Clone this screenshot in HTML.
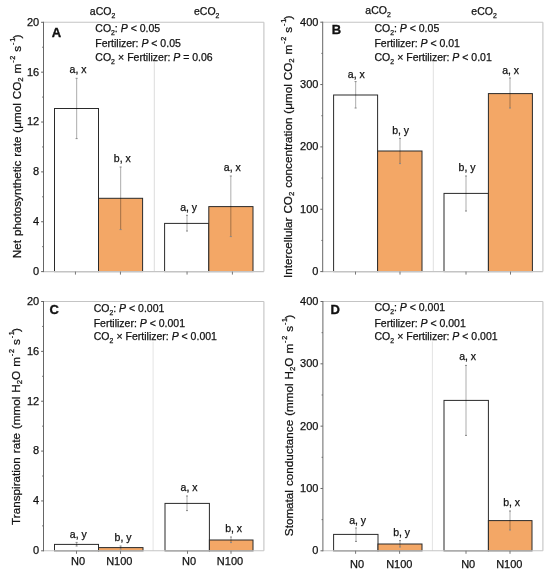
<!DOCTYPE html>
<html><head><meta charset="utf-8"><style>
html,body{margin:0;padding:0;background:#fff;width:550px;height:574px;overflow:hidden}
svg{display:block} svg{will-change:transform} text{stroke:#111;stroke-width:0.25px}
text{font-family:"Liberation Sans", sans-serif;fill:#111}
</style></head><body>
<svg width="550" height="574" viewBox="0 0 550 574">
<rect width="550" height="574" fill="#fff"/>
<line x1="154.3" y1="22.3" x2="154.3" y2="271.6" stroke="#dcdcdc" stroke-width="1"/>
<rect x="54.5" y="108.5" width="44.00" height="163.10" fill="#fff" stroke="#2a2a2a" stroke-width="1"/>
<rect x="98.5" y="198.3" width="44.10" height="73.30" fill="#f3a766" stroke="#2a2a2a" stroke-width="1"/>
<rect x="164.6" y="223.4" width="44.20" height="48.20" fill="#fff" stroke="#2a2a2a" stroke-width="1"/>
<rect x="208.8" y="206.6" width="44.20" height="65.00" fill="#f3a766" stroke="#2a2a2a" stroke-width="1"/>
<line x1="76.6" y1="78.3" x2="76.6" y2="138.6" stroke="#000" stroke-opacity="0.27" stroke-width="1.2"/>
<line x1="75.6" y1="78.3" x2="77.6" y2="78.3" stroke="#888" stroke-width="1"/>
<line x1="75.6" y1="138.6" x2="77.6" y2="138.6" stroke="#888" stroke-width="1"/>
<line x1="120.6" y1="167" x2="120.6" y2="229.6" stroke="#000" stroke-opacity="0.27" stroke-width="1.2"/>
<line x1="119.6" y1="167" x2="121.6" y2="167" stroke="#888" stroke-width="1"/>
<line x1="119.6" y1="229.6" x2="121.6" y2="229.6" stroke="#888" stroke-width="1"/>
<line x1="187" y1="215.3" x2="187" y2="231" stroke="#000" stroke-opacity="0.27" stroke-width="1.2"/>
<line x1="186" y1="215.3" x2="188" y2="215.3" stroke="#888" stroke-width="1"/>
<line x1="186" y1="231" x2="188" y2="231" stroke="#888" stroke-width="1"/>
<line x1="230.8" y1="176" x2="230.8" y2="236.6" stroke="#000" stroke-opacity="0.27" stroke-width="1.2"/>
<line x1="229.8" y1="176" x2="231.8" y2="176" stroke="#888" stroke-width="1"/>
<line x1="229.8" y1="236.6" x2="231.8" y2="236.6" stroke="#888" stroke-width="1"/>
<line x1="43.5" y1="22.3" x2="263.9" y2="22.3" stroke="#c4c4c4" stroke-width="1.1"/>
<line x1="263.9" y1="22.3" x2="263.9" y2="271.6" stroke="#c4c4c4" stroke-width="1.1"/>
<line x1="43.5" y1="271.6" x2="263.9" y2="271.6" stroke="#c4c4c4" stroke-width="1.1"/>
<rect x="94.3" y="23.3" width="125" height="38.8" fill="#fff"/>
<line x1="43.5" y1="21.8" x2="43.5" y2="272.1" stroke="#666666" stroke-width="1"/>
<line x1="41.1" y1="271.60" x2="43.5" y2="271.60" stroke="#666666" stroke-width="1"/>
<text x="39.2" y="275.00" text-anchor="end" font-size="11">0</text>
<line x1="42.2" y1="246.67" x2="43.5" y2="246.67" stroke="#666666" stroke-width="1"/>
<line x1="41.1" y1="221.74" x2="43.5" y2="221.74" stroke="#666666" stroke-width="1"/>
<text x="39.2" y="225.14" text-anchor="end" font-size="11">4</text>
<line x1="42.2" y1="196.81" x2="43.5" y2="196.81" stroke="#666666" stroke-width="1"/>
<line x1="41.1" y1="171.88" x2="43.5" y2="171.88" stroke="#666666" stroke-width="1"/>
<text x="39.2" y="175.28" text-anchor="end" font-size="11">8</text>
<line x1="42.2" y1="146.95" x2="43.5" y2="146.95" stroke="#666666" stroke-width="1"/>
<line x1="41.1" y1="122.02" x2="43.5" y2="122.02" stroke="#666666" stroke-width="1"/>
<text x="39.2" y="125.42" text-anchor="end" font-size="11">12</text>
<line x1="42.2" y1="97.09" x2="43.5" y2="97.09" stroke="#666666" stroke-width="1"/>
<line x1="41.1" y1="72.16" x2="43.5" y2="72.16" stroke="#666666" stroke-width="1"/>
<text x="39.2" y="75.56" text-anchor="end" font-size="11">16</text>
<line x1="42.2" y1="47.23" x2="43.5" y2="47.23" stroke="#666666" stroke-width="1"/>
<line x1="41.1" y1="22.30" x2="43.5" y2="22.30" stroke="#666666" stroke-width="1"/>
<text x="39.2" y="25.70" text-anchor="end" font-size="11">20</text>
<line x1="75.45" y1="271.6" x2="75.45" y2="274.6" stroke="#777" stroke-width="1"/>
<line x1="120.45" y1="271.6" x2="120.45" y2="274.6" stroke="#777" stroke-width="1"/>
<line x1="187.05" y1="271.6" x2="187.05" y2="274.6" stroke="#777" stroke-width="1"/>
<line x1="232.4" y1="271.6" x2="232.4" y2="274.6" stroke="#777" stroke-width="1"/>
<text x="51.8" y="36.8" font-size="13" font-weight="bold" style="stroke-width:0.35px">A</text>
<text x="95.3" y="31.8" font-size="10.5">CO<tspan font-size="6.83" baseline-shift="-2.94">2</tspan>: <tspan font-style="italic">P</tspan> &lt; 0.05</text>
<text x="95.3" y="47" font-size="10.5">Fertilizer: <tspan font-style="italic">P</tspan> &lt; 0.05</text>
<text x="95.3" y="60.5" font-size="10.5">CO<tspan font-size="6.83" baseline-shift="-2.94">2</tspan><tspan dx="0.3"> ×</tspan> Fertilizer: <tspan font-style="italic">P</tspan> = 0.06</text>
<text x="69.60" y="73" font-size="10.5">a, x</text>
<text x="113.80" y="162.4" font-size="10.5">b, x</text>
<text x="180.20" y="211" font-size="10.5">a, y</text>
<text x="223.80" y="171" font-size="10.5">a, x</text>
<text x="89.8" y="15" font-size="10.5">aCO<tspan font-size="6.83" baseline-shift="-2.94">2</tspan></text>
<text x="194" y="15" font-size="10.5">eCO<tspan font-size="6.83" baseline-shift="-2.94">2</tspan></text>
<text transform="translate(20.7,146.4) rotate(-90)" x="0" y="0" text-anchor="middle" font-size="11.7" word-spacing="0.7">Net photosynthetic rate (μmol CO<tspan font-size="7.84" baseline-shift="-2.11">2</tspan> m<tspan font-size="7.25" baseline-shift="5.85"><tspan dx="0.9">-</tspan><tspan dx="0.7">2</tspan></tspan> s<tspan font-size="7.25" baseline-shift="5.85"><tspan dx="0.9">-</tspan><tspan dx="0.7">1</tspan></tspan><tspan dx="-0.8">)</tspan></text>
<line x1="433.3" y1="22.2" x2="433.3" y2="271.6" stroke="#e0e0e0" stroke-width="1"/>
<rect x="333.6" y="95" width="44.00" height="176.60" fill="#fff" stroke="#2a2a2a" stroke-width="1"/>
<rect x="377.6" y="151" width="44.40" height="120.60" fill="#f3a766" stroke="#2a2a2a" stroke-width="1"/>
<rect x="444" y="193.4" width="44.40" height="78.20" fill="#fff" stroke="#2a2a2a" stroke-width="1"/>
<rect x="488.4" y="93.6" width="44.00" height="178.00" fill="#f3a766" stroke="#2a2a2a" stroke-width="1"/>
<line x1="355.6" y1="81.6" x2="355.6" y2="108" stroke="#000" stroke-opacity="0.27" stroke-width="1.2"/>
<line x1="354.6" y1="81.6" x2="356.6" y2="81.6" stroke="#888" stroke-width="1"/>
<line x1="354.6" y1="108" x2="356.6" y2="108" stroke="#888" stroke-width="1"/>
<line x1="400" y1="138.4" x2="400" y2="163.6" stroke="#000" stroke-opacity="0.27" stroke-width="1.2"/>
<line x1="399" y1="138.4" x2="401" y2="138.4" stroke="#888" stroke-width="1"/>
<line x1="399" y1="163.6" x2="401" y2="163.6" stroke="#888" stroke-width="1"/>
<line x1="466" y1="176" x2="466" y2="211" stroke="#000" stroke-opacity="0.27" stroke-width="1.2"/>
<line x1="465" y1="176" x2="467" y2="176" stroke="#888" stroke-width="1"/>
<line x1="465" y1="211" x2="467" y2="211" stroke="#888" stroke-width="1"/>
<line x1="510" y1="78" x2="510" y2="108" stroke="#000" stroke-opacity="0.27" stroke-width="1.2"/>
<line x1="509" y1="78" x2="511" y2="78" stroke="#888" stroke-width="1"/>
<line x1="509" y1="108" x2="511" y2="108" stroke="#888" stroke-width="1"/>
<line x1="322.7" y1="22.2" x2="542.9" y2="22.2" stroke="#c4c4c4" stroke-width="1.1"/>
<line x1="542.9" y1="22.2" x2="542.9" y2="271.6" stroke="#c4c4c4" stroke-width="1.1"/>
<line x1="322.7" y1="271.6" x2="542.9" y2="271.6" stroke="#c4c4c4" stroke-width="1.1"/>
<rect x="373.4" y="23.2" width="125" height="38.8" fill="#fff"/>
<line x1="322.7" y1="21.7" x2="322.7" y2="272.1" stroke="#666666" stroke-width="1"/>
<line x1="320.3" y1="271.60" x2="322.7" y2="271.60" stroke="#666666" stroke-width="1"/>
<text x="318.4" y="275.00" text-anchor="end" font-size="11">0</text>
<line x1="321.4" y1="240.43" x2="322.7" y2="240.43" stroke="#666666" stroke-width="1"/>
<line x1="320.3" y1="209.25" x2="322.7" y2="209.25" stroke="#666666" stroke-width="1"/>
<text x="318.4" y="212.65" text-anchor="end" font-size="11">100</text>
<line x1="321.4" y1="178.07" x2="322.7" y2="178.07" stroke="#666666" stroke-width="1"/>
<line x1="320.3" y1="146.90" x2="322.7" y2="146.90" stroke="#666666" stroke-width="1"/>
<text x="318.4" y="150.30" text-anchor="end" font-size="11">200</text>
<line x1="321.4" y1="115.72" x2="322.7" y2="115.72" stroke="#666666" stroke-width="1"/>
<line x1="320.3" y1="84.55" x2="322.7" y2="84.55" stroke="#666666" stroke-width="1"/>
<text x="318.4" y="87.95" text-anchor="end" font-size="11">300</text>
<line x1="321.4" y1="53.38" x2="322.7" y2="53.38" stroke="#666666" stroke-width="1"/>
<line x1="320.3" y1="22.20" x2="322.7" y2="22.20" stroke="#666666" stroke-width="1"/>
<text x="318.4" y="25.60" text-anchor="end" font-size="11">400</text>
<line x1="355.5" y1="271.6" x2="355.5" y2="274.6" stroke="#777" stroke-width="1"/>
<line x1="400" y1="271.6" x2="400" y2="274.6" stroke="#777" stroke-width="1"/>
<line x1="466" y1="271.6" x2="466" y2="274.6" stroke="#777" stroke-width="1"/>
<line x1="510.5" y1="271.6" x2="510.5" y2="274.6" stroke="#777" stroke-width="1"/>
<text x="331.7" y="34" font-size="13" font-weight="bold" style="stroke-width:0.35px">B</text>
<text x="374.4" y="31.8" font-size="10.5">CO<tspan font-size="6.83" baseline-shift="-2.94">2</tspan>: <tspan font-style="italic">P</tspan> &lt; 0.05</text>
<text x="374.4" y="47" font-size="10.5">Fertilizer: <tspan font-style="italic">P</tspan> &lt; 0.01</text>
<text x="374.4" y="60.5" font-size="10.5">CO<tspan font-size="6.83" baseline-shift="-2.94">2</tspan><tspan dx="0.3"> ×</tspan> Fertilizer: <tspan font-style="italic">P</tspan> &lt; 0.01</text>
<text x="347.80" y="77.6" font-size="10.5">a, x</text>
<text x="392.20" y="134" font-size="10.5">b, y</text>
<text x="458.60" y="170.6" font-size="10.5">b, y</text>
<text x="502.20" y="73.6" font-size="10.5">a, x</text>
<text x="365.3" y="14.2" font-size="10.5">aCO<tspan font-size="6.83" baseline-shift="-2.94">2</tspan></text>
<text x="471.3" y="15" font-size="10.5">eCO<tspan font-size="6.83" baseline-shift="-2.94">2</tspan></text>
<text transform="translate(291.9,146.8) rotate(-90)" x="0" y="0" text-anchor="middle" font-size="11.7" word-spacing="0.7">Intercellular CO<tspan font-size="7.84" baseline-shift="-2.11">2</tspan> concentration (μmol CO<tspan font-size="7.84" baseline-shift="-2.11">2</tspan> m<tspan font-size="7.25" baseline-shift="5.85"><tspan dx="0.9">-</tspan><tspan dx="0.7">2</tspan></tspan> s<tspan font-size="7.25" baseline-shift="5.85"><tspan dx="0.9">-</tspan><tspan dx="0.7">1</tspan></tspan><tspan dx="-0.8">)</tspan></text>
<line x1="153.1" y1="301.5" x2="153.1" y2="550.8" stroke="#e4e4e4" stroke-width="1"/>
<rect x="54.5" y="544.4" width="44.00" height="6.40" fill="#fff" stroke="#2a2a2a" stroke-width="1"/>
<rect x="98.5" y="547.6" width="44.50" height="3.20" fill="#f3a766" stroke="#2a2a2a" stroke-width="1"/>
<rect x="165" y="503.4" width="44.40" height="47.40" fill="#fff" stroke="#2a2a2a" stroke-width="1"/>
<rect x="209.4" y="540" width="43.60" height="10.80" fill="#f3a766" stroke="#2a2a2a" stroke-width="1"/>
<line x1="76.6" y1="542.4" x2="76.6" y2="546" stroke="#000" stroke-opacity="0.27" stroke-width="1.2"/>
<line x1="75.6" y1="542.4" x2="77.6" y2="542.4" stroke="#888" stroke-width="1"/>
<line x1="75.6" y1="546" x2="77.6" y2="546" stroke="#888" stroke-width="1"/>
<line x1="120.6" y1="546" x2="120.6" y2="549" stroke="#000" stroke-opacity="0.27" stroke-width="1.2"/>
<line x1="119.6" y1="546" x2="121.6" y2="546" stroke="#888" stroke-width="1"/>
<line x1="119.6" y1="549" x2="121.6" y2="549" stroke="#888" stroke-width="1"/>
<line x1="187" y1="496" x2="187" y2="510.6" stroke="#000" stroke-opacity="0.27" stroke-width="1.2"/>
<line x1="186" y1="496" x2="188" y2="496" stroke="#888" stroke-width="1"/>
<line x1="186" y1="510.6" x2="188" y2="510.6" stroke="#888" stroke-width="1"/>
<line x1="231" y1="537" x2="231" y2="542.6" stroke="#000" stroke-opacity="0.27" stroke-width="1.2"/>
<line x1="230" y1="537" x2="232" y2="537" stroke="#888" stroke-width="1"/>
<line x1="230" y1="542.6" x2="232" y2="542.6" stroke="#888" stroke-width="1"/>
<line x1="43.5" y1="301.5" x2="263.9" y2="301.5" stroke="#c4c4c4" stroke-width="1.1"/>
<line x1="263.9" y1="301.5" x2="263.9" y2="550.8" stroke="#c4c4c4" stroke-width="1.1"/>
<line x1="43.5" y1="550.8" x2="263.9" y2="550.8" stroke="#c4c4c4" stroke-width="1.1"/>
<rect x="92.7" y="302.5" width="132" height="39.1" fill="#fff"/>
<line x1="43.5" y1="301.0" x2="43.5" y2="551.3" stroke="#666666" stroke-width="1"/>
<line x1="41.1" y1="550.80" x2="43.5" y2="550.80" stroke="#666666" stroke-width="1"/>
<text x="39.2" y="554.20" text-anchor="end" font-size="11">0</text>
<line x1="42.2" y1="525.87" x2="43.5" y2="525.87" stroke="#666666" stroke-width="1"/>
<line x1="41.1" y1="500.94" x2="43.5" y2="500.94" stroke="#666666" stroke-width="1"/>
<text x="39.2" y="504.34" text-anchor="end" font-size="11">4</text>
<line x1="42.2" y1="476.01" x2="43.5" y2="476.01" stroke="#666666" stroke-width="1"/>
<line x1="41.1" y1="451.08" x2="43.5" y2="451.08" stroke="#666666" stroke-width="1"/>
<text x="39.2" y="454.48" text-anchor="end" font-size="11">8</text>
<line x1="42.2" y1="426.15" x2="43.5" y2="426.15" stroke="#666666" stroke-width="1"/>
<line x1="41.1" y1="401.22" x2="43.5" y2="401.22" stroke="#666666" stroke-width="1"/>
<text x="39.2" y="404.62" text-anchor="end" font-size="11">12</text>
<line x1="42.2" y1="376.29" x2="43.5" y2="376.29" stroke="#666666" stroke-width="1"/>
<line x1="41.1" y1="351.36" x2="43.5" y2="351.36" stroke="#666666" stroke-width="1"/>
<text x="39.2" y="354.76" text-anchor="end" font-size="11">16</text>
<line x1="42.2" y1="326.43" x2="43.5" y2="326.43" stroke="#666666" stroke-width="1"/>
<line x1="41.1" y1="301.50" x2="43.5" y2="301.50" stroke="#666666" stroke-width="1"/>
<text x="39.2" y="304.90" text-anchor="end" font-size="11">20</text>
<line x1="76.5" y1="550.8" x2="76.5" y2="553.8" stroke="#777" stroke-width="1"/>
<line x1="120.5" y1="550.8" x2="120.5" y2="553.8" stroke="#777" stroke-width="1"/>
<line x1="187.5" y1="550.8" x2="187.5" y2="553.8" stroke="#777" stroke-width="1"/>
<line x1="231" y1="550.8" x2="231" y2="553.8" stroke="#777" stroke-width="1"/>
<text x="49.6" y="314.0" font-size="13" font-weight="bold" style="stroke-width:0.35px">C</text>
<text x="93.7" y="311.6" font-size="10.5">CO<tspan font-size="6.83" baseline-shift="-2.94">2</tspan>: <tspan font-style="italic">P</tspan> &lt; 0.001</text>
<text x="93.7" y="326.6" font-size="10.5">Fertilizer: <tspan font-style="italic">P</tspan> &lt; 0.001</text>
<text x="93.7" y="339.6" font-size="10.5">CO<tspan font-size="6.83" baseline-shift="-2.94">2</tspan><tspan dx="0.3"> ×</tspan> Fertilizer: <tspan font-style="italic">P</tspan> &lt; 0.001</text>
<text x="69.80" y="537.6" font-size="10.5">a, y</text>
<text x="114.60" y="541" font-size="10.5">b, y</text>
<text x="180.60" y="490.6" font-size="10.5">a, x</text>
<text x="225.20" y="532" font-size="10.5">b, x</text>
<text x="78" y="565.4" font-size="11" text-anchor="middle">N0</text>
<text x="119.3" y="565.4" font-size="11" text-anchor="middle">N100</text>
<text x="189" y="565.4" font-size="11" text-anchor="middle">N0</text>
<text x="230" y="565.4" font-size="11" text-anchor="middle">N100</text>
<text transform="translate(20.4,426.5) rotate(-90)" x="0" y="0" text-anchor="middle" font-size="11.7" word-spacing="0.7">Transpiration rate (mmol H<tspan font-size="7.84" baseline-shift="-2.11">2</tspan>O m<tspan font-size="7.25" baseline-shift="5.85"><tspan dx="0.9">-</tspan><tspan dx="0.7">2</tspan></tspan> s<tspan font-size="7.25" baseline-shift="5.85"><tspan dx="0.9">-</tspan><tspan dx="0.7">1</tspan></tspan><tspan dx="-0.8">)</tspan></text>
<line x1="432.4" y1="301.5" x2="432.4" y2="550.8" stroke="#e4e4e4" stroke-width="1"/>
<rect x="333.6" y="534.4" width="44.40" height="16.40" fill="#fff" stroke="#2a2a2a" stroke-width="1"/>
<rect x="378" y="544" width="44.00" height="6.80" fill="#f3a766" stroke="#2a2a2a" stroke-width="1"/>
<rect x="444" y="400.4" width="44.40" height="150.40" fill="#fff" stroke="#2a2a2a" stroke-width="1"/>
<rect x="488.4" y="520.6" width="43.60" height="30.20" fill="#f3a766" stroke="#2a2a2a" stroke-width="1"/>
<line x1="356" y1="528" x2="356" y2="541.4" stroke="#000" stroke-opacity="0.27" stroke-width="1.2"/>
<line x1="355" y1="528" x2="357" y2="528" stroke="#888" stroke-width="1"/>
<line x1="355" y1="541.4" x2="357" y2="541.4" stroke="#888" stroke-width="1"/>
<line x1="400" y1="540.6" x2="400" y2="547" stroke="#000" stroke-opacity="0.27" stroke-width="1.2"/>
<line x1="399" y1="540.6" x2="401" y2="540.6" stroke="#888" stroke-width="1"/>
<line x1="399" y1="547" x2="401" y2="547" stroke="#888" stroke-width="1"/>
<line x1="466" y1="365.4" x2="466" y2="435.4" stroke="#000" stroke-opacity="0.27" stroke-width="1.2"/>
<line x1="465" y1="365.4" x2="467" y2="365.4" stroke="#888" stroke-width="1"/>
<line x1="465" y1="435.4" x2="467" y2="435.4" stroke="#888" stroke-width="1"/>
<line x1="510" y1="511" x2="510" y2="530" stroke="#000" stroke-opacity="0.27" stroke-width="1.2"/>
<line x1="509" y1="511" x2="511" y2="511" stroke="#888" stroke-width="1"/>
<line x1="509" y1="530" x2="511" y2="530" stroke="#888" stroke-width="1"/>
<line x1="322.9" y1="301.5" x2="542.9" y2="301.5" stroke="#c4c4c4" stroke-width="1.1"/>
<line x1="542.9" y1="301.5" x2="542.9" y2="550.8" stroke="#c4c4c4" stroke-width="1.1"/>
<line x1="322.9" y1="550.8" x2="542.9" y2="550.8" stroke="#c4c4c4" stroke-width="1.1"/>
<rect x="373.4" y="302.5" width="132" height="38.9" fill="#fff"/>
<line x1="322.9" y1="301.0" x2="322.9" y2="551.3" stroke="#666666" stroke-width="1"/>
<line x1="320.5" y1="550.80" x2="322.9" y2="550.80" stroke="#666666" stroke-width="1"/>
<text x="318.4" y="554.20" text-anchor="end" font-size="11">0</text>
<line x1="321.59999999999997" y1="519.64" x2="322.9" y2="519.64" stroke="#666666" stroke-width="1"/>
<line x1="320.5" y1="488.47" x2="322.9" y2="488.47" stroke="#666666" stroke-width="1"/>
<text x="318.4" y="491.87" text-anchor="end" font-size="11">100</text>
<line x1="321.59999999999997" y1="457.31" x2="322.9" y2="457.31" stroke="#666666" stroke-width="1"/>
<line x1="320.5" y1="426.15" x2="322.9" y2="426.15" stroke="#666666" stroke-width="1"/>
<text x="318.4" y="429.55" text-anchor="end" font-size="11">200</text>
<line x1="321.59999999999997" y1="394.99" x2="322.9" y2="394.99" stroke="#666666" stroke-width="1"/>
<line x1="320.5" y1="363.82" x2="322.9" y2="363.82" stroke="#666666" stroke-width="1"/>
<text x="318.4" y="367.22" text-anchor="end" font-size="11">300</text>
<line x1="321.59999999999997" y1="332.66" x2="322.9" y2="332.66" stroke="#666666" stroke-width="1"/>
<line x1="320.5" y1="301.50" x2="322.9" y2="301.50" stroke="#666666" stroke-width="1"/>
<text x="318.4" y="304.90" text-anchor="end" font-size="11">400</text>
<line x1="355.6" y1="550.8" x2="355.6" y2="553.8" stroke="#777" stroke-width="1"/>
<line x1="399.6" y1="550.8" x2="399.6" y2="553.8" stroke="#777" stroke-width="1"/>
<line x1="466" y1="550.8" x2="466" y2="553.8" stroke="#777" stroke-width="1"/>
<line x1="510" y1="550.8" x2="510" y2="553.8" stroke="#777" stroke-width="1"/>
<text x="330.6" y="314.1" font-size="13" font-weight="bold" style="stroke-width:0.35px">D</text>
<text x="374.4" y="311.2" font-size="10.5">CO<tspan font-size="6.83" baseline-shift="-2.94">2</tspan>: <tspan font-style="italic">P</tspan> &lt; 0.001</text>
<text x="374.4" y="326.6" font-size="10.5">Fertilizer: <tspan font-style="italic">P</tspan> &lt; 0.001</text>
<text x="374.4" y="339.6" font-size="10.5">CO<tspan font-size="6.83" baseline-shift="-2.94">2</tspan><tspan dx="0.3"> ×</tspan> Fertilizer: <tspan font-style="italic">P</tspan> &lt; 0.001</text>
<text x="349.20" y="523.6" font-size="10.5">a, y</text>
<text x="393.20" y="536.4" font-size="10.5">b, y</text>
<text x="459.20" y="360.4" font-size="10.5">a, x</text>
<text x="503.20" y="506" font-size="10.5">b, x</text>
<text x="357" y="567.6" font-size="11" text-anchor="middle">N0</text>
<text x="399.3" y="567.6" font-size="11" text-anchor="middle">N100</text>
<text x="468.2" y="567.6" font-size="11" text-anchor="middle">N0</text>
<text x="509.3" y="567.6" font-size="11" text-anchor="middle">N100</text>
<text transform="translate(293.2,425.5) rotate(-90)" x="0" y="0" text-anchor="middle" font-size="11.7" word-spacing="0.7">Stomatal conductance (mmol H<tspan font-size="7.84" baseline-shift="-2.11">2</tspan>O m<tspan font-size="7.25" baseline-shift="5.85"><tspan dx="0.9">-</tspan><tspan dx="0.7">2</tspan></tspan> s<tspan font-size="7.25" baseline-shift="5.85"><tspan dx="0.9">-</tspan><tspan dx="0.7">1</tspan></tspan><tspan dx="-0.8">)</tspan></text>
</svg>
</body></html>
